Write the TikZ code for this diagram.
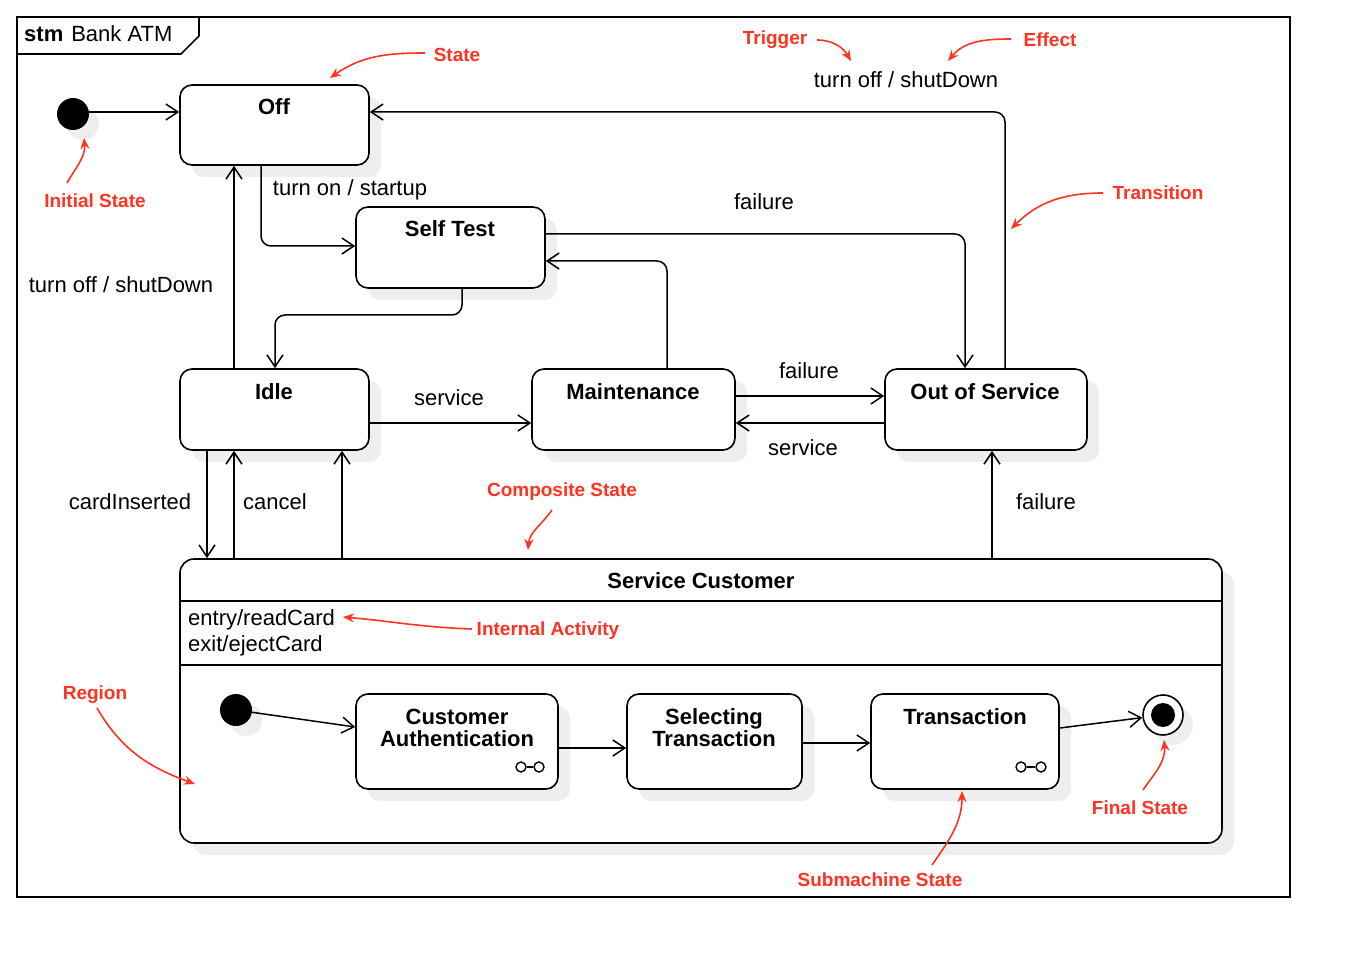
\documentclass[tikz,border=0pt]{standalone}
\usepackage{fontspec}
\setmainfont{Liberation Sans}
\usetikzlibrary{arrows.meta,shadows,calc}
\definecolor{annot}{HTML}{FF3322}
\definecolor{shade}{HTML}{EEEEEE}
\begin{document}
\begin{tikzpicture}[x=1pt,y=-1pt,
  stbox/.style={draw, line width=1.6pt, rounded corners=12pt, fill=white, inner sep=0pt,
     drop shadow={shadow xshift=12pt, shadow yshift=-12pt, fill=shade, opacity=1}},
  dot/.style={circle, fill=black, inner sep=0pt, minimum size=32pt,
     drop shadow={shadow xshift=10pt, shadow yshift=-10pt, fill=shade, opacity=1}},
  conn/.style={line width=1.5pt, -{Straight Barb[length=12pt,width=16pt,line width=1.5pt]}},
  annarrow/.style={draw=annot, line width=1.6pt, -{Stealth[length=11pt,width=9pt]}},
  lbl/.style={font=\fontsize{22}{25}\selectfont, inner sep=0pt, yshift=-1.5pt},
  bld/.style={font=\bfseries\fontsize{22}{22}\selectfont, align=center, inner sep=0pt, yshift=-1.5pt},
  red/.style={text=annot, font=\bfseries\fontsize{19}{21}\selectfont, inner sep=0pt, yshift=-2pt},
  icon/.style={circle, draw, line width=1.4pt, inner sep=0pt, minimum size=10pt}
]
\useasboundingbox (0,0) rectangle (1358,965);
\fill[white] (0,0) rectangle (1358,965);

% frame
\draw[line width=1.6pt] (17,17) rectangle (1290,897);
\draw[line width=1.6pt] (17,54) -- (181,54) -- (199,36) -- (199,17);
\node[lbl, anchor=base west, yshift=1.5pt] (title) at (24,42) {\textbf{stm}\hspace{8pt}Bank ATM};

% states
\node[dot] (init) at (73,114) {};
\node[stbox, minimum width=189pt, minimum height=80pt] (off) at (274.5,125) {};
\node[stbox, minimum width=189pt, minimum height=81pt] (st) at (450.5,247.5) {};
\node[stbox, minimum width=189pt, minimum height=81pt] (idle) at (274.5,409.5) {};
\node[stbox, minimum width=203pt, minimum height=81pt] (maint) at (633.5,409.5) {};
\node[stbox, minimum width=202pt, minimum height=81pt] (oos) at (986,409.5) {};
\node[stbox, rounded corners=14pt, minimum width=1042pt, minimum height=284pt] (sc) at (701,701) {};
\draw[line width=1.6pt] (sc.west |- 0,601) -- (sc.east |- 0,601);
\draw[line width=1.6pt] (sc.west |- 0,665) -- (sc.east |- 0,665);

\node[bld] (offT) at (274,105) {Off};
\node[bld] (stT) at (450,227) {Self Test};
\node[bld] (idleT) at (274,390) {Idle};
\node[bld] (maintT) at (633,390) {Maintenance};
\node[bld] (oosT) at (985,390) {Out of Service};
\node[bld] (scT) at (701,579) {Service Customer};
\node[lbl, anchor=west] (entry) at (188,618) {entry/readCard};
\node[lbl, anchor=west] (exit) at (188,644) {exit/ejectCard};

% inner states
\node[dot] (iinit) at (236,710) {};
\node[stbox, minimum width=202pt, minimum height=95pt] (ca) at (457,741.5) {};
\node[stbox, minimum width=175pt, minimum height=95pt] (sel) at (714.5,741.5) {};
\node[stbox, minimum width=188pt, minimum height=95pt] (tr) at (965,741.5) {};
\node[circle, draw, line width=1.6pt, fill=white, minimum size=40pt, inner sep=0pt,
     drop shadow={shadow xshift=10pt, shadow yshift=-10pt, fill=shade, opacity=1}] (final) at (1163,715) {};
\node[circle, fill=black, minimum size=24pt, inner sep=0pt] (finalIn) at (1163,715) {};

\node[bld] (caT) at (457,726) {Customer\\Authentication};
\node[bld] (selT) at (714,726) {Selecting\\Transaction};
\node[bld] (trT) at (965,715) {Transaction};

% submachine icons
\node[icon] (ca1) at (521,767) {};
\node[icon] (ca2) at (539,767) {};
\draw[line width=1.4pt] (ca1) -- (ca2);
\node[icon] (tr1) at (1021,767) {};
\node[icon] (tr2) at (1041,767) {};
\draw[line width=1.4pt] (tr1) -- (tr2);

% transitions
\draw[conn] (init.east |- 0,112) -- (off.west |- 0,112);
\draw[conn, rounded corners=10pt] (1005,0 |- oos.north) -- (1005,112) -- (off.east |- 0,112);
\draw[conn, rounded corners=10pt] (261,0 |- off.south) -- (261,246) -- (st.west |- 0,246);
\draw[conn] (234,0 |- idle.north) -- (234,0 |- off.south);
\draw[conn, rounded corners=10pt] (462,0 |- st.south) -- (462,315) -- (275,315) -- (275,0 |- idle.north);
\draw[conn, rounded corners=10pt] (st.east |- 0,234) -- (965,234) -- (965,0 |- oos.north);
\draw[conn, rounded corners=10pt] (667,0 |- maint.north) -- (667,261) -- (st.east |- 0,261);
\draw[conn] (idle.east |- 0,423) -- (maint.west |- 0,423);
\draw[conn] (maint.east |- 0,396) -- (oos.west |- 0,396);
\draw[conn] (oos.west |- 0,423) -- (maint.east |- 0,423);
\draw[conn] (207,0 |- idle.south) -- (207,0 |- sc.north);
\draw[conn] (234,0 |- sc.north) -- (234,0 |- idle.south);
\draw[conn] (342,0 |- sc.north) -- (342,0 |- idle.south);
\draw[conn] (992,0 |- sc.north) -- (992,0 |- oos.south);
\draw[conn] (iinit) -- (ca.west |- 0,727);
\draw[conn] (ca.east |- 0,748) -- (sel.west |- 0,748);
\draw[conn] (sel.east |- 0,743) -- (tr.west |- 0,743);
\draw[conn] (tr.east |- 0,728) -- (final);

% transition labels
\node[lbl] (l1) at (350,188) {turn on / startup};
\node[lbl] (l2) at (764,200) {failure};
\node[lbl] (l3) at (121,283) {turn off / shutDown};
\node[lbl] (l4) at (449,396) {service};
\node[lbl] (l5) at (809,369) {failure};
\node[lbl] (l6) at (803,446) {service};
\node[lbl] (l7) at (130,500) {cardInserted};
\node[lbl] (l8) at (275,500) {cancel};
\node[lbl] (l9) at (1046,500) {failure};
\node[lbl] (l10) at (906,78) {turn off / shutDown};

% annotations
\node[red] (aState) at (457,53) {State};
\coordinate (pState) at (330,78);
\draw[annarrow] (425,53) to[out=180,in=35] (pState);
\node[red] (aInit) at (95,199) {Initial State};
\coordinate (pInit) at (84,138);
\draw[annarrow] (67,183) to[out=60,in=-85] (pInit);
\node[red] (aTrig) at (775,38) {Trigger};
\coordinate (pTrig) at (851,61);
\draw[annarrow] (817,40) to[out=0,in=120] (pTrig);
\node[red] (aEff) at (1050,38) {Effect};
\coordinate (pEff) at (948,61);
\draw[annarrow] (1011,39) to[out=180,in=50] (pEff);
\node[red] (aTrans) at (1158,191) {Transition};
\coordinate (pTrans) at (1011,229);
\draw[annarrow] (1103,193) to[out=180,in=45] (pTrans);
\node[red] (aComp) at (562,490) {Composite State};
\coordinate (pComp) at (528,550);
\draw[annarrow] (552,510) to[out=-125,in=85] (pComp);
\node[red] (aInt) at (548,629) {Internal Activity};
\coordinate (pInt) at (343,617);
\draw[annarrow] (472,629) to[out=178,in=-5] (pInt);
\node[red] (aReg) at (95,693) {Region};
\coordinate (pReg) at (195,784);
\draw[annarrow] (97,708) to[out=-60,in=160] (pReg);
\node[red] (aSub) at (880,878) {Submachine State};
\coordinate (pSub) at (962,791);
\draw[annarrow] (932,865) to[out=55,in=-90] (pSub);
\node[red] (aFin) at (1140,806) {Final State};
\coordinate (pFin) at (1164,740);
\draw[annarrow] (1143,790) to[out=55,in=-85] (pFin);
\end{tikzpicture}
\end{document}
